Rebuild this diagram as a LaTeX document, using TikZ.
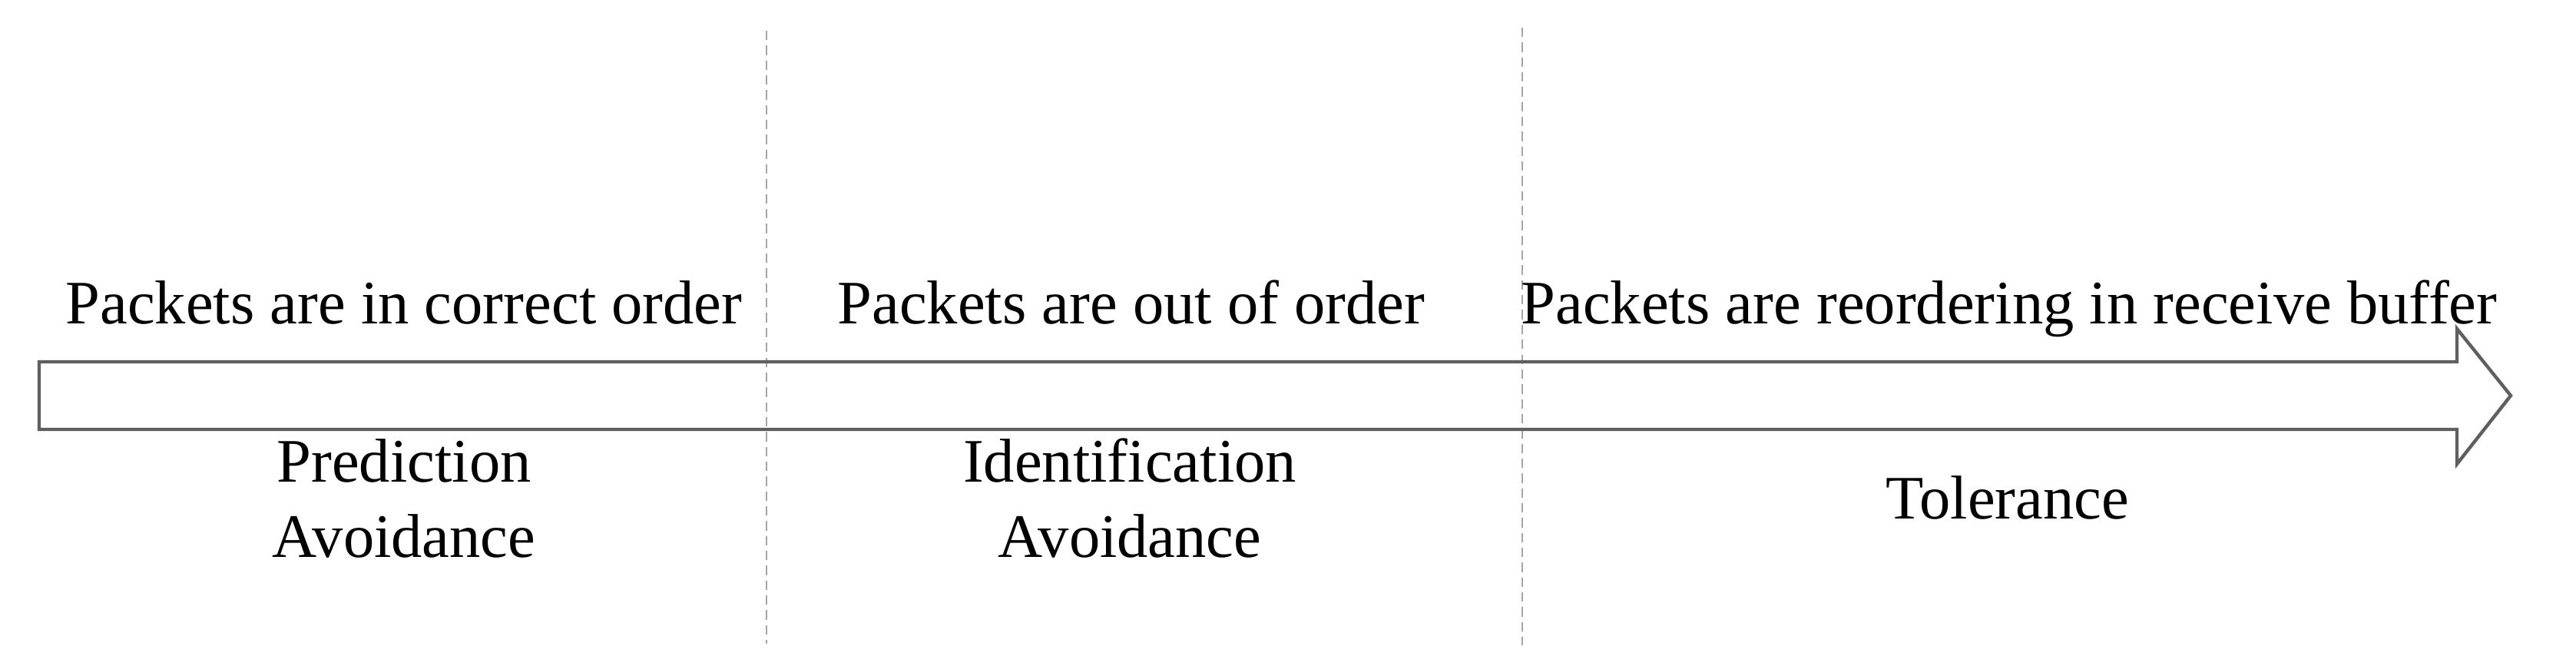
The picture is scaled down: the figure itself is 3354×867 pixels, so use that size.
\documentclass[tikz,border=0pt]{standalone}
\usepackage{fontspec}
\setmainfont{Liberation Serif}
\definecolor{arrowgray}{RGB}{95,95,95}
\definecolor{dashgray}{RGB}{165,165,165}
\begin{document}
\begin{tikzpicture}[x=0.01cm,y=-0.01cm,
  lbl/.style={anchor=base,inner sep=0pt,font=\fontsize{22.9}{28}\selectfont},
  divider/.style={draw=dashgray,line width=0.45pt,dash pattern=on 3.5pt off 2pt},
  bigarrow/.style={draw=arrowgray,line width=1.25pt,line join=miter}]
\useasboundingbox (0,0) rectangle (3354,867);
% dividers
\coordinate (d1t) at (998,40);
\coordinate (d1b) at (998,838);
\coordinate (d2t) at (1982,36);
\coordinate (d2b) at (1982,840);
\draw[divider] (d1t) -- (d1b);
\draw[divider] (d2t) -- (d2b);
% arrow
\draw[bigarrow] (51,471) -- (3199,471) -- (3199,428) -- (3269,515) -- (3199,604) -- (3199,559) -- (51,559) -- cycle;
% labels above
\node[lbl] (t1) at (526,421) {Packets are in correct order};
\node[lbl] (t2) at (1473,421) {Packets are out of order};
\node[lbl] (t3) at (2616,421) {Packets are reordering in receive buffer};
% labels below
\node[lbl] (b1a) at (526,627) {Prediction};
\node[lbl] (b1b) at (526,725) {Avoidance};
\node[lbl] (b2a) at (1471,627) {Identification};
\node[lbl] (b2b) at (1471,725) {Avoidance};
\node[lbl] (b3) at (2614,675) {Tolerance};
\end{tikzpicture}
\end{document}
